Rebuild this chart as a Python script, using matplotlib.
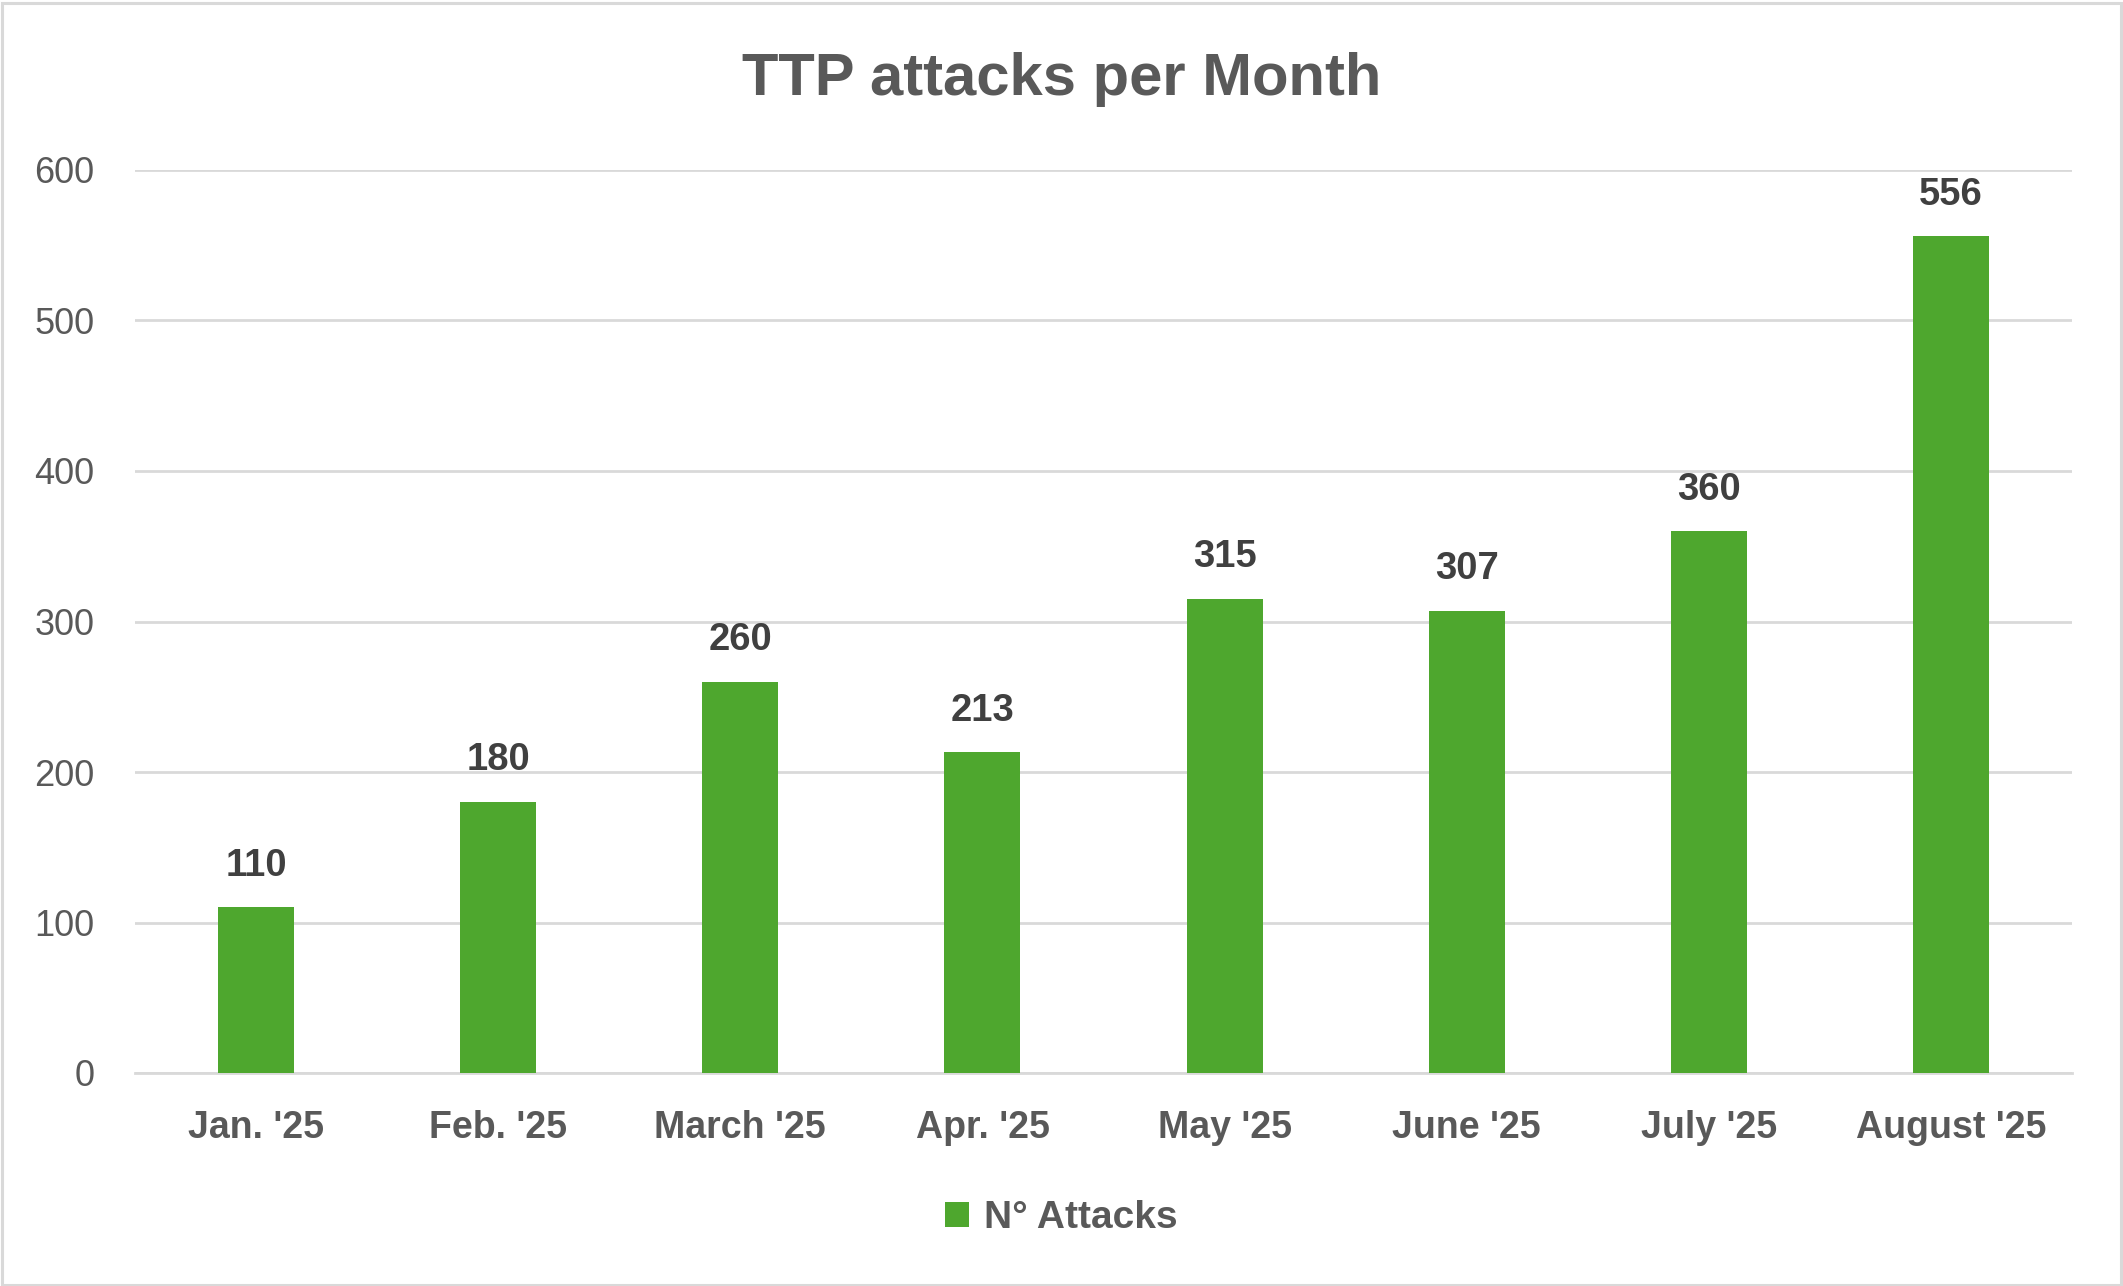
import matplotlib
matplotlib.use("Agg")
import matplotlib.pyplot as plt
from matplotlib.patches import Rectangle

months = ["Jan. '25", "Feb. '25", "March '25", "Apr. '25", "May '25", "June '25", "July '25", "August '25"]
attacks = [110, 180, 260, 213, 315, 307, 360, 556]
series_name = "N° Attacks"
title = "TTP attacks per Month"
yticks = [0, 100, 200, 300, 400, 500, 600]

plt.rcParams['font.family'] = ['Liberation Sans', 'DejaVu Sans']

W, H = 2123, 1286
fig = plt.figure(figsize=(W / 100, H / 100), dpi=100)
fig.patch.set_facecolor('white')

ax = fig.add_axes([135 / W, 1 - 1073 / H, (2072 - 135) / W, (1073 - 170) / H])

green = '#4EA72E'
grid_c = '#D9D9D9'
x = list(range(len(months)))
bars = ax.bar(x, attacks, width=0.314, color=green, label=series_name, zorder=3)
ax.bar_label(bars, labels=[str(v) for v in attacks], padding=17, fontsize=27.5,
             fontweight='bold', color='#404040')

ax.set_xlim(-0.5, len(months) - 0.5)
ax.set_ylim(0, 600)
ax.set_yticks(yticks)
ax.set_yticklabels([str(v) for v in yticks])
ax.set_xticks(x)
ax.set_xticklabels(months, fontweight='bold')
ax.tick_params(axis='y', length=0, pad=29, labelsize=26, labelcolor='#595959')
ax.tick_params(axis='x', length=0, pad=27, labelsize=27, labelcolor='#595959')
ax.yaxis.grid(True, color=grid_c, linewidth=2.0, zorder=0)
for s in ['top', 'right', 'left']:
    ax.spines[s].set_visible(False)
ax.spines['bottom'].set_color(grid_c)
ax.spines['bottom'].set_linewidth(2.0)
ax.spines['bottom'].set_zorder(1)

fig.text(0.5, 1 - 95 / H, title, ha='center', va='baseline', fontsize=43,
         fontweight='bold', color='#595959')

leg = fig.legend(loc='center', bbox_to_anchor=(0.5, 1 - 1218 / H), frameon=False,
                 handlelength=0.6, handleheight=0.6, handletextpad=0.4,
                 prop={'weight': 'bold', 'size': 28})
for t in leg.get_texts():
    t.set_color('#595959')

fig.patches.append(Rectangle((1.5 / W, 1.5 / H), (W - 4) / W, (H - 4) / H,
                             transform=fig.transFigure, fill=False,
                             edgecolor=grid_c, linewidth=2.2))

fig.savefig('out.png', dpi=100)
